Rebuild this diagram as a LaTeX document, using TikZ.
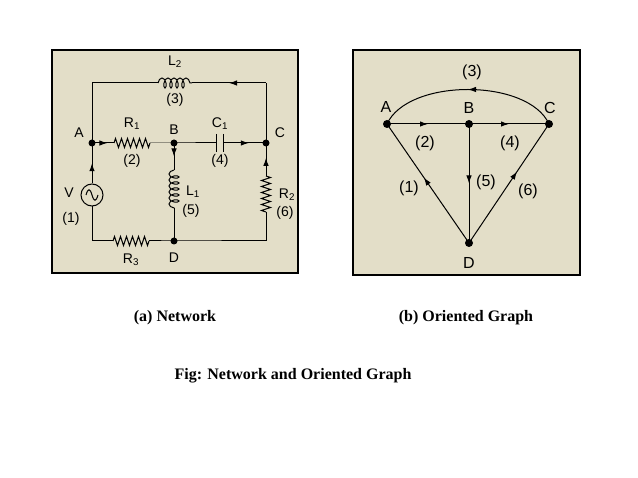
\documentclass[tikz,border=0pt]{standalone}
\usepackage{fontspec}
\setmainfont{Liberation Serif}
\newfontfamily\lab{Liberation Sans}
\usetikzlibrary{decorations.pathmorphing,decorations.markings,arrows.meta}
\begin{document}
\begin{tikzpicture}[x=1pt,y=-1pt,
  wire/.style={line width=1pt},
  lbl/.style={font=\lab\fontsize{14}{15}\selectfont,inner sep=0pt},
  glbl/.style={font=\lab\fontsize{16}{17}\selectfont,inner sep=0pt},
  captext/.style={font=\bfseries\fontsize{16}{18}\selectfont,inner sep=0pt},
  dotn/.style={circle,fill=black,inner sep=0pt,minimum size=7pt},
  frame/.style={draw=black,line width=2pt,fill=paper},
  midarrow/.style={postaction={decorate},decoration={markings,mark=at position #1 with {\arrow{Latex[length=8pt,width=5.5pt]}}}},
  zz/.style={decorate,decoration={zigzag,segment length=6pt,amplitude=4.5pt}},
  coilh/.style={decorate,decoration={coil,amplitude=5pt,segment length=6pt,aspect=0.5}},
]
\definecolor{paper}{HTML}{E3DEC8}
\useasboundingbox (0,0) rectangle (638,478);
\fill[white] (0,0) rectangle (638,478);
% ---------- (a) network ----------
\draw[frame] (52,50) rectangle (298,273);
\coordinate (A) at (92,143); \coordinate (B) at (174,143);
\coordinate (C) at (266,143); \coordinate (D) at (174,241);
\coordinate (TL) at (92,83); \coordinate (TR) at (266,83);
\coordinate (BL) at (92,241); \coordinate (BR) at (266,241);
\node[draw,circle,line width=1pt,minimum size=22pt,inner sep=0pt] (V) at (92,195) {};
\draw[wire] (V.center) ++(-6,0) .. controls +(2,-7) and +(-2,-7) .. ++(6,0) .. controls +(2,7) and +(-2,7) .. ++(6,0);
\draw[wire,midarrow=0.5] (V.north) -- (A);
\draw[wire] (A) -- (TL) -- (158,83);
\draw[wire,coilh] (158,83) -- (192,83);
\draw[wire,midarrow=0.5] (TR) -- (192,83);
\draw[wire] (C) -- (TR);
\draw[wire,midarrow=0.7] (A) -- (114,143);
\draw[wire,zz] (114,143) -- (150,143);
\draw[wire] (150,143) -- (B) -- (216,143);
\draw[wire] (216,134) -- (216,152) (223,134) -- (223,152);
\draw[wire,midarrow=0.6] (223,143) -- (C);
\draw[wire,midarrow=0.5] (B) -- (174,170);
\draw[wire,decorate,decoration={coil,amplitude=5pt,segment length=6pt,aspect=0.5,mirror}] (174,170) -- (174,208);
\draw[wire] (174,208) -- (D);
\draw[wire] (V.south) -- (BL) -- (113,241);
\draw[wire,zz] (113,241) -- (149,241);
\draw[wire] (149,241) -- (D) -- (BR) -- (266,212);
\draw[wire,zz] (266,212) -- (266,176);
\draw[wire,midarrow=0.55] (266,176) -- (C);
\foreach \p in {A,B,C,D} \node[dotn] at (\p) {};
\node[lbl] at (175,62) {L\textsubscript{2}};
\node[lbl] at (175,100) {(3)};
\node[lbl] at (132,124) {R\textsubscript{1}};
\node[lbl] at (132,161) {(2)};
\node[lbl] at (174,130) {B};
\node[lbl] at (220,124) {C\textsubscript{1}};
\node[lbl] at (220,161) {(4)};
\node[lbl] at (280,133) {C};
\node[lbl] at (79,133) {A};
\node[lbl] at (69,193) {V};
\node[lbl] at (71,219) {(1)};
\node[lbl] at (193,192) {L\textsubscript{1}};
\node[lbl] at (191,211) {(5)};
\node[lbl] at (287,195) {R\textsubscript{2}};
\node[lbl] at (285,213) {(6)};
\node[lbl] at (131,260) {R\textsubscript{3}};
\node[lbl] at (174,258) {D};
% ---------- (b) oriented graph ----------
\draw[frame] (353,50) rectangle (580,275);
\node[dotn,minimum size=8pt] (gA) at (387,124) {};
\node[dotn,minimum size=8pt] (gB) at (469,124) {};
\node[dotn,minimum size=8pt] (gC) at (549,124) {};
\node[dotn,minimum size=8pt] (gD) at (469,243) {};
\draw[wire,midarrow=0.5] (gA.center) -- (gB.center);
\draw[wire,midarrow=0.5] (gB.center) -- (gC.center);
\draw[wire,midarrow=0.5] (gB.center) -- (gD.center);
\draw[wire,midarrow=0.55] (gD.center) -- (gA.center);
\draw[wire,midarrow=0.6] (gD.center) -- (gC.center);
\draw[wire,midarrow=0.5] (gC.center) .. controls (528,78) and (408,78) .. (gA.center);
\node[glbl] at (472,72) {(3)};
\node[glbl] at (386,107) {A};
\node[glbl] at (469,108) {B};
\node[glbl] at (550,108) {C};
\node[glbl] at (425,143) {(2)};
\node[glbl] at (510,143) {(4)};
\node[glbl] at (486,182) {(5)};
\node[glbl] at (409,188) {(1)};
\node[glbl] at (528,191) {(6)};
\node[glbl] at (469,263) {D};
% ---------- captions ----------
\node[captext] at (175,318) {(a) Network};
\node[captext] at (466,318) {(b) Oriented Graph};
\node[captext] at (293,376) {Fig: Network and Oriented Graph};
\end{tikzpicture}
\end{document}
